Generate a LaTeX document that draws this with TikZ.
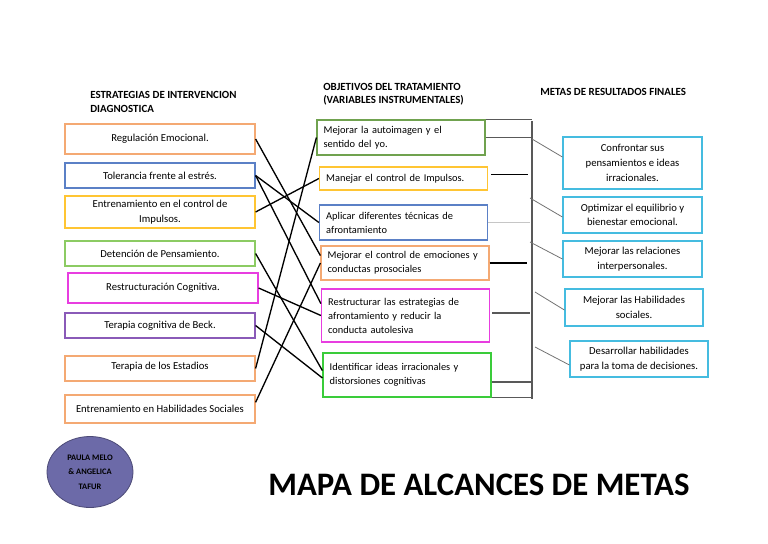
\documentclass[tikz,border=0pt]{standalone}
\usepackage{fontspec}
\setmainfont{Carlito}
\usetikzlibrary{shapes.geometric,calc}
\definecolor{boxorange}{HTML}{F4A973}
\definecolor{boxblue}{HTML}{5B80C6}
\definecolor{boxyellow}{HTML}{FFC533}
\definecolor{boxgreen}{HTML}{8CCB63}
\definecolor{boxmagenta}{HTML}{E83DE0}
\definecolor{boxpurple}{HTML}{8A5AB8}
\definecolor{boxcyan}{HTML}{45BCE0}
\definecolor{brightgreen}{HTML}{3ACC3A}
\definecolor{authorfill}{HTML}{6C6AA8}
\begin{document}
\begin{tikzpicture}[x=0.75pt,y=-0.75pt,
	box/.style={draw, line width=0.9pt, fill=white, inner sep=2pt, font=\fontsize{8}{11}\selectfont, align=center},
	lbox/.style={box, minimum width=142.5pt},
	mbox/.style={box, inner xsep=5pt, text width=116pt, align=left, font=\fontsize{7.8}{10.5}\selectfont},
	rbox/.style={box, draw=boxcyan, minimum width=104.25pt},
	heading/.style={font=\bfseries\fontsize{8.2}{10}\selectfont, align=left, inner sep=0pt},
	link/.style={line width=1pt},
	bar/.style={draw=black!65, line width=1.2pt},
	goallink/.style={draw=black!55, line width=0.6pt}]
	\useasboundingbox (0,0) rectangle (768,543);
	
	\node[heading, anchor=west] (hstrat) at (90,102) {ESTRATEGIAS DE INTERVENCION\\DIAGNOSTICA};
	\node[heading, anchor=west] (hobj) at (323,94.5) {OBJETIVOS DEL TRATAMIENTO\\(VARIABLES INSTRUMENTALES)};
	\node[heading, anchor=west] (hmetas) at (540,92) {METAS DE RESULTADOS FINALES};
	
	\node[lbox, draw=boxorange, minimum height=22.5pt] (reg) at (160,139) {Regulación Emocional.};
	\node[lbox, draw=boxblue, minimum height=18.75pt] (tol) at (160,175.5) {Tolerancia frente al estrés.};
	\node[lbox, draw=boxyellow, minimum height=24pt] (ent) at (160,212) {Entrenamiento en el control de\\Impulsos.};
	\node[lbox, draw=boxgreen, minimum height=18.75pt] (det) at (160,253.5) {Detención de Pensamiento.};
	\node[lbox, draw=boxmagenta, minimum height=22.5pt] (res) at (163,288) {Restructuración Cognitiva.};
	\node[lbox, draw=boxpurple, minimum height=18.75pt] (beck) at (160,325.5) {Terapia cognitiva de Beck.};
	\node[lbox, draw=boxorange, minimum height=18.75pt, text depth=4pt] (est) at (160,368.5) {Terapia de los Estadios};
	\node[lbox, draw=boxorange, minimum height=21pt] (hab) at (160,409) {Entrenamiento en Habilidades Sociales};
	
	\node[mbox, draw=boxgreen!80!black, minimum height=26.25pt] (auto) at (401,137.5) {Mejorar la autoimagen y el\\sentido del yo.};
	\node[mbox, draw=boxyellow, minimum height=17.25pt] (man) at (403.5,178.5) {Manejar el control de Impulsos.};
	\node[mbox, draw=boxblue, minimum height=26.25pt] (apl) at (403.5,222.5) {Aplicar diferentes técnicas de\\afrontamiento};
	\node[mbox, draw=boxorange, minimum height=25.5pt] (emo) at (405,263) {Mejorar el control de emociones y\\conductas prosociales};
	\node[mbox, draw=boxmagenta, minimum height=39.75pt] (rees) at (405.5,315.5) {Restructurar las estrategias de\\afrontamiento y reducir la\\conducta autolesiva};
	\node[mbox, draw=brightgreen, minimum height=33pt] (ide) at (407,375) {Identificar ideas irracionales y\\distorsiones cognitivas};
	
	\node[rbox, minimum height=39pt] (conf) at (632.5,163) {Confrontar sus\\pensamientos e ideas\\irracionales.};
	\node[rbox, minimum height=27pt] (opt) at (632.5,215) {Optimizar el equilibrio y\\bienestar emocional.};
	\node[rbox, minimum height=27pt] (rel) at (632.5,259) {Mejorar las relaciones\\interpersonales.};
	\node[rbox, minimum width=103.5pt, minimum height=27.75pt] (soc) at (634,307.5) {Mejorar las Habilidades\\sociales.};
	\node[rbox, minimum width=103.5pt, minimum height=27pt] (dec) at (639,359) {Desarrollar habilidades\\para la toma de decisiones.};
	
	\draw[link] (reg.east) -- (emo.175);
	\draw[link] (tol.east) -- (apl.west);
	\draw[link] (tol.east) -- (rees.172);
	\draw[link] (ent.east) -- (man.west);
	\draw[link] (det.east) -- (ide.177);
	\draw[link] (res.east) -- (rees.west);
	\draw[link] (beck.east) -- (ide.182);
	\draw[link] (est.east) -- (auto.west);
	\draw[link] (hab.4) -- (emo.west);
	
	\coordinate (bartop) at (532,121);
	\coordinate (barbot) at (532,399);
	\draw[bar] (bartop) -- (barbot);
	\draw[bar] (auto.north east) -- (auto.north east -| bartop);
	\draw[bar] (auto.east) -- (auto.east -| bartop);
	\draw[line width=0.8pt] ($(man.east)+(3,-4)$) -- ($(man.east -| bartop)+(-4,-4)$);
	\draw[gray!45, line width=1pt] (apl.east) -- ($(apl.east -| bartop)+(-2,0)$);
	\draw[line width=0.8pt] (emo.east) -- ($(emo.east -| bartop)+(-5,0)$);
	\draw[bar, line width=1pt] ($(rees.east)+(2,-2.5)$) -- ($(rees.east -| bartop)+(-2,-2.5)$);
	\draw[bar, line width=1pt] ($(ide.east)+(0,7)$) -- ($(ide.east -| bartop)+(0,7)$);
	\draw[bar] (ide.south east) -- (ide.south east -| barbot);
	
	\draw[goallink] ($(conf.west)+(0,-6)$) -- ($(conf.west -| bartop)+(0,-24)$);
	\draw[goallink] ($(opt.west)+(0,2)$) -- ($(opt.west -| bartop)+(-2,-17)$);
	\draw[goallink] (rel.west) -- ($(rel.west -| bartop)+(-2,-17)$);
	\draw[goallink] ($(soc.west)+(0,2.5)$) -- ($(soc.west -| bartop)+(3,-15.5)$);
	\draw[goallink] ($(dec.west)+(0,6)$) -- ($(dec.west -| bartop)+(3,-12)$);
	
	\node[ellipse, draw=authorfill!70!black, line width=0.6pt, fill=authorfill, minimum width=64.5pt, minimum height=53.25pt, align=center, font=\bfseries\fontsize{6.3}{11}\selectfont] (autores) at (90,472) {PAULA MELO\\\& ANGELICA\\TAFUR};
	\node[font=\bfseries\fontsize{24.6}{30}\selectfont] (titulo) at (479,485) {MAPA DE ALCANCES DE METAS};
\end{tikzpicture}
\end{document}
